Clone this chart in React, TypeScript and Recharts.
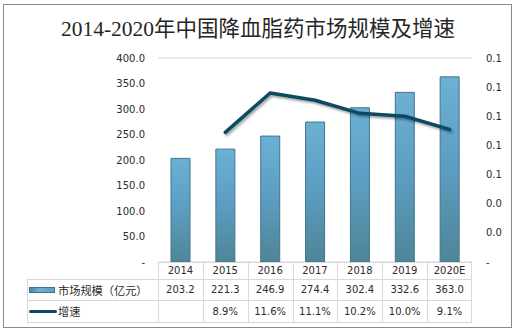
import { ComposedChart, Bar, Line, XAxis, YAxis, CartesianGrid } from "recharts";

const years = ["2014", "2015", "2016", "2017", "2018", "2019", "2020E"];
const marketSize = [203.2, 221.3, 246.9, 274.4, 302.4, 332.6, 363.0];
const growth: (number | null)[] = [null, 0.089, 0.116, 0.111, 0.102, 0.1, 0.091];
const leftTicks = [0, 50, 100, 150, 200, 250, 300, 350, 400];
const rightTicks = [0, 0.02, 0.04, 0.06, 0.08, 0.1, 0.12, 0.14];

const data = years.map((y, i) => ({ year: y, size: marketSize[i], growth: growth[i] }));

const W = 516;
const H = 332;
const PLOT_L = 158;
const PLOT_R = 472;
const PLOT_T = 58;
const PLOT_B = 262;
const BAND = (PLOT_R - PLOT_L) / years.length;

const TEXT = "#2b2b2b";
const GRID = "#d9d9d9";
const FONT = '"DejaVu Sans", "Noto Sans CJK SC", sans-serif';

const cell = (left: number, top: number, width: number, height: number, extra = {}) => ({
  position: "absolute" as const,
  left,
  top,
  width,
  height,
  boxSizing: "border-box" as const,
  display: "flex",
  alignItems: "center",
  justifyContent: "center",
  fontSize: 10,
  color: TEXT,
  fontFamily: FONT,
  ...extra,
});

export default function App() {
  const rows = [
    { top: 262, h: 17 },
    { top: 279, h: 21 },
    { top: 300, h: 22 },
  ];

  return (
    <div style={{ position: "absolute", left: 0, top: 0, width: W, height: H, background: "#fff" }}>
      {/* outer frame */}
      <div style={{ position: "absolute", left: 3, top: 4, width: 509, height: 324, border: "1px solid #8a8a8a", boxSizing: "border-box" }} />

      <div
        style={{
          position: "absolute",
          left: 0,
          width: W,
          top: 16,
          textAlign: "center",
          fontFamily: '"Liberation Serif", "Noto Sans CJK SC", serif',
          fontSize: 21.5,
          color: "#262626",
          lineHeight: "26px",
        }}
      >
        2014-2020年中国降血脂药市场规模及增速
      </div>

      <div style={{ position: "absolute", left: 0, top: 0 }}>
        <ComposedChart width={W} height={H} data={data} margin={{ top: PLOT_T, right: 0, bottom: H - PLOT_B, left: 0 }}>
          <defs>
            <linearGradient id="barFill" x1="0" y1="0" x2="0" y2="1">
              <stop offset="0%" stopColor="#6cb0d4" />
              <stop offset="45%" stopColor="#5d9fc4" />
              <stop offset="100%" stopColor="#4e8597" />
            </linearGradient>
            <filter id="lineShadow" x="-10%" y="-30%" width="120%" height="160%">
              <feDropShadow dx="1.5" dy="2" stdDeviation="1.2" floodColor="#000" floodOpacity="0.35" />
            </filter>
          </defs>
          <CartesianGrid vertical={false} stroke={GRID} />
          <XAxis dataKey="year" hide />
          <YAxis
            yAxisId="left"
            width={PLOT_L}
            domain={[0, 400]}
            ticks={leftTicks}
            axisLine={false}
            tickLine={false}
            tickSize={0}
            tickMargin={13}
            tick={{ fill: TEXT, fontSize: 10, fontFamily: FONT }}
            tickFormatter={(v) => (v === 0 ? "-" : v.toFixed(1))}
          />
          <YAxis
            yAxisId="right"
            orientation="right"
            width={W - PLOT_R}
            domain={[0, 0.14]}
            ticks={rightTicks}
            axisLine={false}
            tickLine={false}
            tickSize={0}
            tickMargin={14}
            tick={{ fill: TEXT, fontSize: 10, fontFamily: FONT, textAnchor: "start" }}
            tickFormatter={(v) => (v === 0 ? "-" : v.toFixed(1))}
          />
          <Bar yAxisId="left" dataKey="size" barSize={19} fill="url(#barFill)" stroke="#41758d" strokeWidth={1} isAnimationActive={false} />
          <Line
            yAxisId="right"
            dataKey="growth"
            type="linear"
            stroke="#0b4a63"
            strokeWidth={3.5}
            strokeLinejoin="round"
            strokeLinecap="round"
            dot={false}
            activeDot={false}
            filter="url(#lineShadow)"
            isAnimationActive={false}
          />
        </ComposedChart>
      </div>

      {/* data table */}
      <div style={{ position: "absolute", left: PLOT_L, top: rows[0].top, width: PLOT_R - PLOT_L, height: 1, background: GRID }} />
      <div style={{ position: "absolute", left: 27, top: rows[1].top, width: PLOT_R - 27, height: 1, background: GRID }} />
      <div style={{ position: "absolute", left: 27, top: rows[2].top, width: PLOT_R - 27, height: 1, background: GRID }} />
      <div style={{ position: "absolute", left: 27, top: 322, width: PLOT_R - 27, height: 1, background: GRID }} />
      <div style={{ position: "absolute", left: 27, top: rows[1].top, width: 1, height: 322 - rows[1].top, background: GRID }} />
      {years.map((_, i) => (
        <div key={"v" + i} style={{ position: "absolute", left: Math.round(PLOT_L + i * BAND), top: rows[0].top, width: 1, height: 322 - rows[0].top, background: GRID }} />
      ))}
      <div style={{ position: "absolute", left: PLOT_R - 1, top: rows[0].top, width: 1, height: 322 - rows[0].top, background: GRID }} />

      {years.map((y, i) => (
        <div key={"h" + i} style={cell(PLOT_L + i * BAND, rows[0].top, BAND, rows[0].h)}>{y}</div>
      ))}
      {marketSize.map((v, i) => (
        <div key={"s" + i} style={cell(PLOT_L + i * BAND, rows[1].top, BAND, rows[1].h)}>{v.toFixed(1)}</div>
      ))}
      {growth.map((v, i) => (
        <div key={"g" + i} style={cell(PLOT_L + i * BAND, rows[2].top, BAND, rows[2].h)}>{v === null ? "" : (v * 100).toFixed(1) + "%"}</div>
      ))}

      <div style={cell(29, rows[1].top, PLOT_L - 29, rows[1].h, { justifyContent: "flex-start", fontSize: 11.2 })}>
        <span style={{ display: "inline-block", width: 26, height: 6, marginRight: 3, background: "linear-gradient(90deg, #4e8597, #6cb0d4 40%, #5d9fc4)", border: "1px solid #41758d", boxSizing: "border-box" }} />
        市场规模（亿元）
      </div>
      <div style={cell(29, rows[2].top, PLOT_L - 29, rows[2].h, { justifyContent: "flex-start", fontSize: 11.2 })}>
        <span style={{ display: "inline-block", width: 28, height: 3, marginRight: 1, background: "#0b4a63", borderRadius: 2 }} />
        增速
      </div>
    </div>
  );
}
